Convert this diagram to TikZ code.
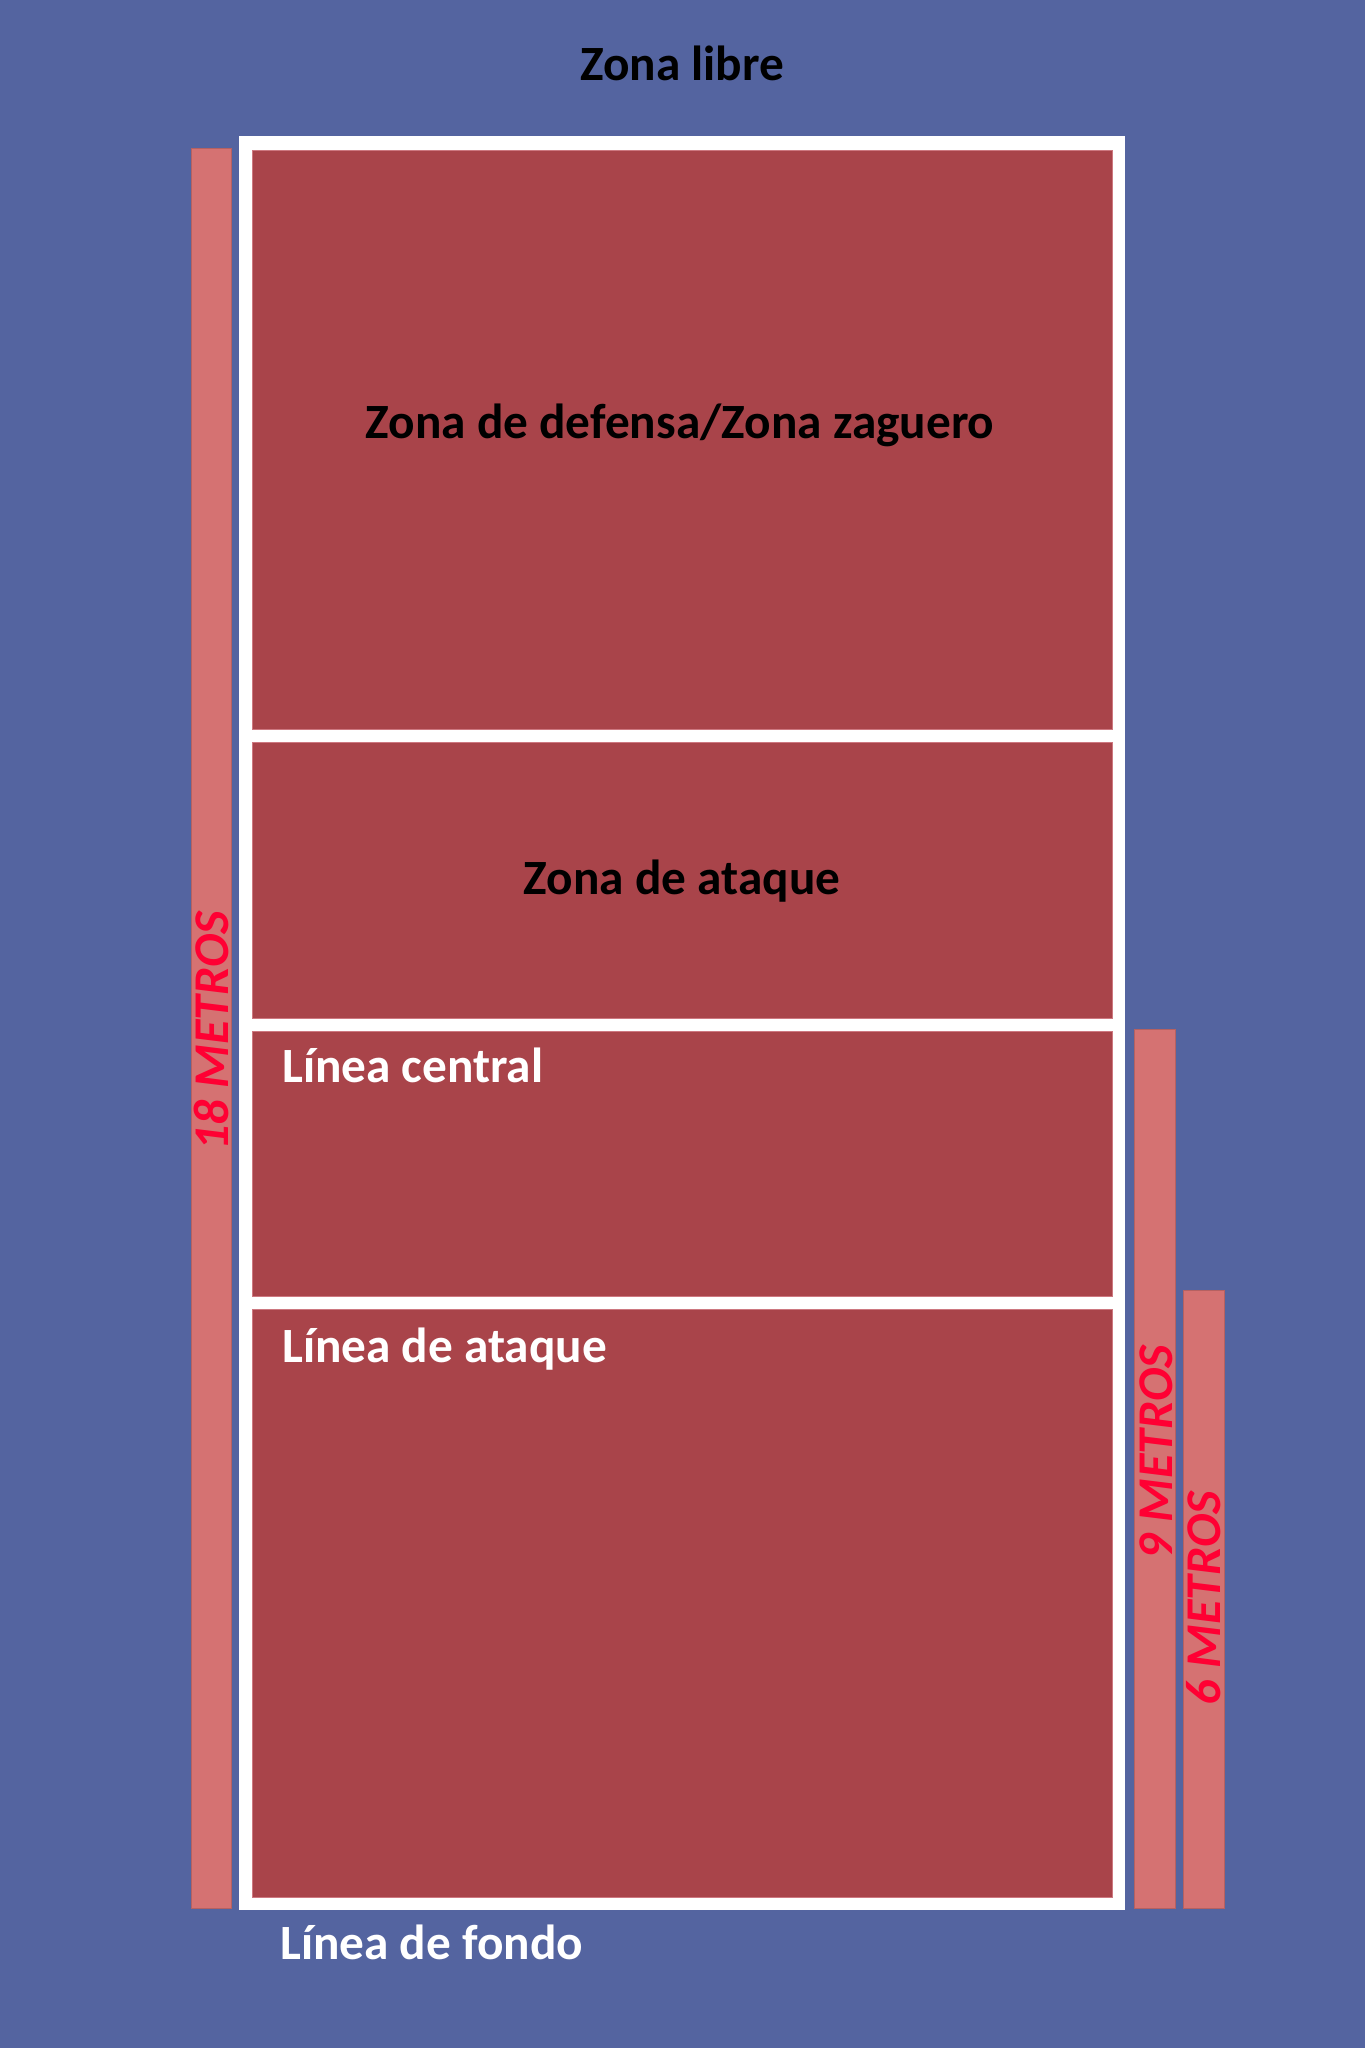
\documentclass[tikz,border=0pt]{standalone}
\usepackage{fontspec}
\setmainfont{Carlito}
\usetikzlibrary{positioning}

\definecolor{fondo}{RGB}{84,100,160}
\definecolor{cancha}{RGB}{169,68,74}
\definecolor{borde}{RGB}{205,120,128}
\definecolor{barrarosa}{RGB}{213,114,114}
\definecolor{rojo}{RGB}{255,0,51}

\begin{document}
\begin{tikzpicture}[
            x = 1pt,
            y = -1pt,
            inner sep = 0pt
        ]

        \tikzset{
            zona/.style = {fill = cancha, draw = borde, line width = 0.8pt},
            barra/.style = {fill = barrarosa, draw = barrarosa!85!black, line width = 0.6pt},
            rotulo/.style = {font = \fontsize{49.3}{56}\selectfont\bfseries, anchor = base},
            medida/.style = {font = \fontsize{50}{56}\selectfont\bfseries\itshape, text = rojo, rotate = 90, anchor = base}
        }

        \fill[fondo] (0,0) rectangle (1365,2048);
        \useasboundingbox (0,0) rectangle (1365,2048);

        % barras de medida
        \filldraw[barra] (191,148) rectangle (231,1908);
        \filldraw[barra] (1134,1029) rectangle (1175,1908);
        \filldraw[barra] (1183,1290) rectangle (1224,1908);

        % cancha
        \fill[white] (239,136) rectangle (1125,1910);
        \filldraw[zona] (252,150) rectangle (1112,729);
        \filldraw[zona] (252,742) rectangle (1112,1018);
        \filldraw[zona] (252,1031) rectangle (1112,1296);
        \filldraw[zona] (252,1309) rectangle (1112,1897);

        \node[rotulo] (libre) at (682,80) {Zona libre};
        \node[rotulo] (defensa) at (680,438) {Zona de defensa/Zona zaguero};
        \node[rotulo] (ataque) at (682,894) {Zona de ataque};
        \node[rotulo, anchor = base west, text = white] (central) at (282,1082) {Línea central};
        \node[rotulo, anchor = base west, text = white] (lataque) at (282,1362) {Línea de ataque};
        \node[rotulo, anchor = base west, text = white] (fondo) at (280,1959) {Línea de fondo};

        \node[medida] (dieciocho) at (228,1031) {18 METROS};
        \node[medida] (nueve) at (1172,1452) {9 METROS};
        \node[medida] (seis) at (1220,1598) {6 METROS};

    \end{tikzpicture}
\end{document}
